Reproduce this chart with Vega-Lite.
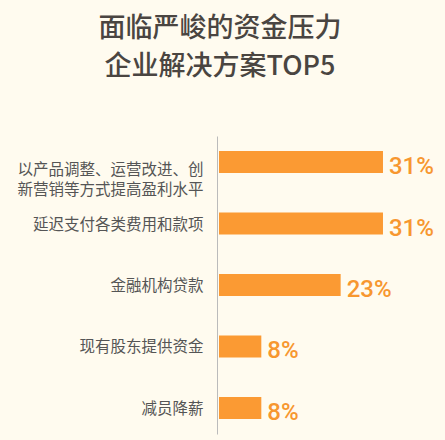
{
  "$schema": "https://vega.github.io/schema/vega-lite/v6.json",
  "width": 220,
  "height": 298,
  "autosize": {"type": "none"},
  "padding": {"left": 219, "top": 136, "right": 6, "bottom": 6},
  "background": "#fffbef",
  "title": {
    "text": ["面临严峻的资金压力", "企业解决方案TOP5"],
    "font": "Noto Sans CJK SC",
    "fontSize": 27,
    "fontWeight": 500,
    "color": "#4a4541",
    "lineHeight": 38,
    "anchor": "middle",
    "frame": "group",
    "dx": -109,
    "offset": 55
  },
  "data": {
    "values": [
      {"item": "以产品调整、运营改进、创|新营销等方式提高盈利水平", "pct": 0.31},
      {"item": "延迟支付各类费用和款项", "pct": 0.31},
      {"item": "金融机构贷款", "pct": 0.23},
      {"item": "现有股东提供资金", "pct": 0.08},
      {"item": "减员降薪", "pct": 0.08}
    ]
  },
  "encoding": {
    "y": {
      "field": "item",
      "type": "nominal",
      "sort": null,
      "scale": {"paddingInner": 0.642, "paddingOuter": 0.246},
      "axis": {
        "title": null,
        "ticks": false,
        "domainColor": "#bbbbbb",
        "domainWidth": 1,
        "offset": 2,
        "labelPadding": 14,
        "labelFont": "Noto Sans CJK SC",
        "labelFontSize": 15.5,
        "labelColor": "#555555",
        "labelLineHeight": 20,
        "labelLimit": 260,
        "labelExpr": "split(datum.label, '|')",
        "labelOffset": {"condition": {"test": "indexof(datum.value, '|') >= 0", "value": 8}, "value": 1}
      }
    },
    "x": {
      "field": "pct",
      "type": "quantitative",
      "scale": {"domain": [0, 0.4159]},
      "axis": null
    }
  },
  "layer": [
    {"mark": {"type": "bar", "color": "#fb9a33"}},
    {
      "mark": {
        "type": "text",
        "align": "left",
        "baseline": "middle",
        "dx": 6,
        "dy": 5,
        "font": "Roboto",
        "fontWeight": 500,
        "fontSize": 24,
        "color": "#f7972f"
      },
      "encoding": {"text": {"field": "pct", "type": "quantitative", "format": ".0%"}}
    }
  ],
  "config": {"view": {"stroke": null}}
}
